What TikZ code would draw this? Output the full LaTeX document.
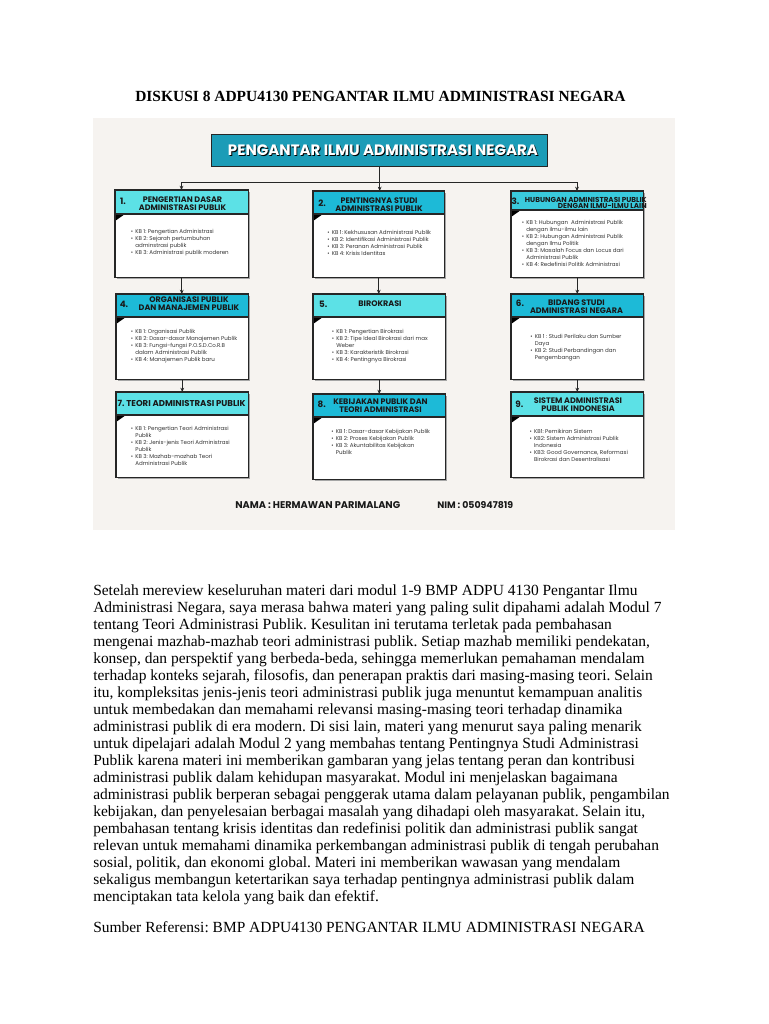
\documentclass[tikz,border=0pt]{standalone}
\usepackage{fontspec}
\usepackage{graphicx}
\setmainfont{Liberation Serif}
\newfontfamily\pop{Poppins}
\usetikzlibrary{arrows.meta}
\frenchspacing
\definecolor{bgc}{HTML}{F6F3F0}
\definecolor{titc}{HTML}{1C9CB7}
\definecolor{hlight}{HTML}{5CE1E6}
\definecolor{hdark}{HTML}{1DBAD7}
\definecolor{hmid}{HTML}{3ACBDD}
\definecolor{kbtext}{HTML}{333333}
\tikzset{
 boxline/.style={draw=black!85, line width=0.9pt},
 conn/.style={draw=black!85, line width=0.7pt, -{Stealth[length=3.2pt,width=2.8pt]}},
 plainline/.style={draw=black!85, line width=0.7pt},
 hdr/.style={font=\pop\bfseries\fontsize{6}{6}\selectfont, text=black!90, inner sep=0, align=center},
 num/.style={font=\pop\bfseries\fontsize{6.6}{6.6}\selectfont, text=black!90, inner sep=0},
 kb/.style={font=\pop\fontsize{4.15}{5.2}\selectfont, text=kbtext, inner sep=0, align=left, anchor=north west},
 boxnode/.style={fill=white, inner sep=0, anchor=north west},
 body/.style={font=\fontsize{11.6}{12.75}\selectfont, inner sep=0, anchor=base west},
}
\newcommand\bl{\makebox[3.4pt][l]{\textbullet}}
\newcommand\ct{\hspace*{3.4pt}}
\newcommand\kbbox[7]{%
 \fill[black!35] (#2+1.5,#3+1.5) rectangle (#4+1.5,#6+1.5);
 \node[boxnode, minimum width={(#4-#2)*0.75pt}, minimum height={(#6-#3)*0.75pt}] (#1) at (#2,#3) {};
 \fill[#7] (#1.north west) rectangle (#4,#5);
 \fill[black] (#2,#5) -- (#2+10,#5) -- (#2,#5+7) -- cycle;
 \draw[boxline] (#1.north west) rectangle (#1.south east);
 \draw[boxline] (#2,#5) -- (#4,#5);
}
\begin{document}
\begin{tikzpicture}[x=0.75pt,y=-0.75pt]
\useasboundingbox (0,0) rectangle (768,1024);
\fill[white] (0,0) rectangle (768,1024);
% heading
\node[font=\bfseries\fontsize{11.6}{13}\selectfont, inner sep=0, anchor=base] (heading) at (380.5,101) {DISKUSI 8 ADPU4130 PENGANTAR ILMU ADMINISTRASI NEGARA};
% diagram background
\fill[bgc] (93,118) rectangle (675,530);
% title box
\node[fill=titc, draw=black!85, line width=1pt, inner sep=0, anchor=north west,
 minimum width={336*0.75pt}, minimum height={32*0.75pt}] (title) at (211,134) {};
\node[inner sep=0, text=black] (titleshadow) at (383.9,151.4) {\resizebox{232.5pt}{!}{\pop\bfseries PENGANTAR ILMU ADMINISTRASI NEGARA}};
\node[inner sep=0, text=white] (titletext) at (383,150.5) {\resizebox{232.5pt}{!}{\pop\bfseries PENGANTAR ILMU ADMINISTRASI NEGARA}};
% boxes
\kbbox{b1}{115}{190}{248}{214}{277}{hlight}
\kbbox{b2}{313}{191}{444}{214}{277}{hdark}
\kbbox{b3}{511}{191}{643}{210}{277}{hmid}
\kbbox{b4}{116}{294}{248}{317}{379}{hdark}
\kbbox{b5}{313}{294}{445}{317}{379}{hlight}
\kbbox{b6}{511}{294}{643}{317}{379}{hdark}
\kbbox{b7}{116}{392}{248}{415}{477}{hlight}
\kbbox{b8}{313}{394}{445}{417}{479}{hdark}
\kbbox{b9}{511}{392}{643}{416}{477}{hlight}
% connectors
\coordinate (hl) at (181.5,182);
\coordinate (hr) at (577,182);
\draw[plainline] (hl) -- (hr);
\draw[conn] (title.south) -- (title.south |- b2.north);
\draw[conn] (hl) -- (hl |- b1.north);
\draw[conn] (hr) -- (hr |- b3.north);
\draw[conn] (b1.south) -- (b1.south |- b4.north);
\draw[conn] (b2.south) -- (b2.south |- b5.north);
\draw[conn] (b3.south) -- (b3.south |- b6.north);
\draw[conn] (b4.south) -- (b4.south |- b7.north);
\draw[conn] (b5.south) -- (b5.south |- b8.north);
\draw[conn] (b6.south) -- (b6.south |- b9.north);
% headers
\node[num] (n1) at (123,201) {1.};
\node[hdr] (h1) at (182.5,204) {PENGERTIAN DASAR\\ADMINISTRASI PUBLIK};
\node[num] (n2) at (322,203) {2.};
\node[hdr] (h2) at (379,205) {PENTINGNYA STUDI\\ADMINISTRASI PUBLIK};
\node[num] (n3) at (515.5,201) {3.};
\node[hdr, align=right, anchor=east, font=\pop\bfseries\fontsize{5.4}{4.3}\selectfont] (h3) at (647,203) {HUBUNGAN ADMINISTRASI PUBLIK\\DENGAN ILMU-ILMU LAIN};
\node[num] (n4) at (124,304) {4.};
\node[hdr] (h4) at (189,303.3) {ORGANISASI PUBLIK\\DAN MANAJEMEN PUBLIK};
\node[num] (n5) at (323.3,304) {5.};
\node[hdr] (h5) at (380,304) {BIROKRASI};
\node[num] (n6) at (520,303.3) {6.};
\node[hdr] (h6) at (576.5,306.5) {BIDANG STUDI\\ADMINISTRASI NEGARA};
\node[hdr, anchor=west, font=\pop\bfseries\fontsize{6.4}{6.4}\selectfont] (h7) at (117.3,403.3) {7. TEORI ADMINISTRASI PUBLIK};
\node[num] (n8) at (321.7,404) {8.};
\node[hdr] (h8) at (380.5,406.2) {KEBIJAKAN PUBLIK DAN\\TEORI ADMINISTRASI};
\node[num] (n9) at (519.3,404) {9.};
\node[hdr] (h9) at (578,404.5) {SISTEM ADMINISTRASI\\PUBLIK INDONESIA};
% bullet lists
\node[kb] (k1) at (130.5,229.5) {\bl KB 1: Pengertian Administrasi\\\bl KB 2: Sejarah pertumbuhan\\\ct adminstrasi publik\\\bl KB 3: Administrasi publik moderen};
\node[kb] (k2) at (327,230) {\bl KB 1: Kekhususan Administrasi Publik\\\bl KB 2: Identifikasi Administrasi Publik\\\bl KB 3: Peranan Administrasi Publik\\\bl KB 4: Krisis Identitas};
\node[kb] (k3) at (521.5,220.5) {\bl KB 1: Hubungan\ \ Administrasi Publik\\\ct dengan ilmu-ilmu lain\\\bl KB 2: Hubungan Administrasi Publik\\\ct dengan Ilmu Politik\\\bl KB 3: Masalah Focus dan Locus dari\\\ct Administrasi Publik\\\bl KB 4: Redefinisi Politik Administrasi};
\node[kb] (k4) at (130.5,329) {\bl KB 1: Organisasi Publik\\\bl KB 2: Dasar-dasar Manajemen Publik\\\bl KB 3: Fungsi-fungsi P.O.S.D.Co.R.B\\\ct dalam Administrasi Publik\\\bl KB 4: Manajemen Publik baru};
\node[kb] (k5) at (331.5,329) {\bl KB 1: Pengertian Birokrasi\\\bl KB 2: Tipe Ideal Birokrasi dari max\\\ct Weber\\\bl KB 3: Karakteristik Birokrasi\\\bl KB 4: Pentingnya Birokrasi};
\node[kb] (k6) at (530,334) {\bl KB 1 : Studi Perilaku dan Sumber\\\ct Daya\\\bl KB 2: Studi Perbandingan dan\\\ct Pengembangan};
\node[kb] (k7) at (130.5,426.5) {\bl KB 1: Pengertian Teori Administrasi\\\ct Publik\\\bl KB 2: Jenis-jenis Teori Administrasi\\\ct Publik\\\bl KB 3: Mazhab-mazhab Teori\\\ct Administrasi Publik};
\node[kb] (k8) at (331,429.5) {\bl KB 1: Dasar-dasar Kebijakan Publik\\\bl KB 2: Proses Kebijakan Publik\\\bl KB 3: Akuntabilitas Kebijakan\\\ct Publik};
\node[kb] (k9) at (529.3,429) {\bl KB1: Pemikiran Sistem\\\bl KB2: Sistem Administrasi Publik\\\ct Indonesia\\\bl KB3: Good Governance, Reformasi\\\ct Birokrasi dan Desentralisasi};
% footer
\node[inner sep=0, anchor=west, text=black!90] (nama) at (235,505) {\resizebox{123.75pt}{!}{\pop\bfseries NAMA : HERMAWAN PARIMALANG}};
\node[inner sep=0, anchor=west, text=black!90] (nim) at (437,505) {\resizebox{57pt}{!}{\pop\bfseries NIM : 050947819}};
% body text
\foreach \t [count=\i] in {
{Setelah mereview keseluruhan materi dari modul 1-9 BMP ADPU 4130 Pengantar Ilmu},
{Administrasi Negara, saya merasa bahwa materi yang paling sulit dipahami adalah Modul 7},
{tentang Teori Administrasi Publik. Kesulitan ini terutama terletak pada pembahasan},
{mengenai mazhab-mazhab teori administrasi publik. Setiap mazhab memiliki pendekatan,},
{konsep, dan perspektif yang berbeda-beda, sehingga memerlukan pemahaman mendalam},
{terhadap konteks sejarah, filosofis, dan penerapan praktis dari masing-masing teori. Selain},
{itu, kompleksitas jenis-jenis teori administrasi publik juga menuntut kemampuan analitis},
{untuk membedakan dan memahami relevansi masing-masing teori terhadap dinamika},
{administrasi publik di era modern. Di sisi lain, materi yang menurut saya paling menarik},
{untuk dipelajari adalah Modul 2 yang membahas tentang Pentingnya Studi Administrasi},
{Publik karena materi ini memberikan gambaran yang jelas tentang peran dan kontribusi},
{administrasi publik dalam kehidupan masyarakat. Modul ini menjelaskan bagaimana},
{administrasi publik berperan sebagai penggerak utama dalam pelayanan publik, pengambilan},
{kebijakan, dan penyelesaian berbagai masalah yang dihadapi oleh masyarakat. Selain itu,},
{pembahasan tentang krisis identitas dan redefinisi politik dan administrasi publik sangat},
{relevan untuk memahami dinamika perkembangan administrasi publik di tengah perubahan},
{sosial, politik, dan ekonomi global. Materi ini memberikan wawasan yang mendalam},
{sekaligus membangun ketertarikan saya terhadap pentingnya administrasi publik dalam},
{menciptakan tata kelola yang baik dan efektif.}}
{\node[body] (p\i) at (93,{595+17*(\i-1)}) {\t};}
\node[body] (sumber) at (93,932) {Sumber Referensi: BMP ADPU4130 PENGANTAR ILMU ADMINISTRASI NEGARA};
\end{tikzpicture}
\end{document}
